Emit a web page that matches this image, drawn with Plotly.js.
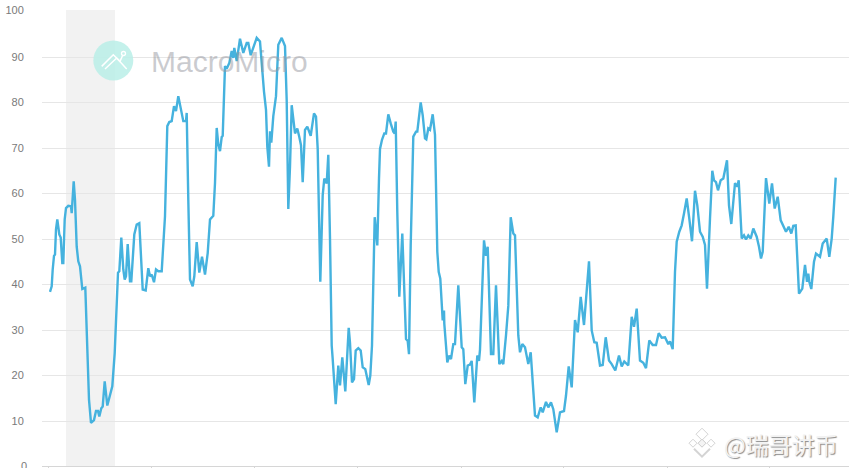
<!DOCTYPE html>
<html>
<head>
<meta charset="utf-8">
<script src="https://cdn.plot.ly/plotly-3.0.1.min.js"></script>
<style>html,body{margin:0;padding:0;background:#fff;overflow:hidden}</style>
</head>
<body>
<div id="chart" style="width:849px;height:468px"></div>
<script>
// x is weeks since the first x tick; y is the index
const weeks = [
2,3.7,4.7,6,7,8,9.3,11.3,12.7,14.3,
15.3,16.7,18,20.3,23,23.7,25.7,27,28.7,30.3,
32,34.3,37.3,39.3,41,43,46,48,50,51.3,
53.3,54.7,56.7,59.3,62,64.3,66.7,68.7,70,71.3,
73.3,75.3,76.7,78,79.7,82,83.3,86.3,88.7,91.3,
94.7,97.7,100.3,102,103.7,106,108,110.3,113.7,117,
119.3,121.3,123.7,126,128,130.3,132.7,135.3,138,138.7,
140.3,142,144.7,146.3,148.7,151.3,154,157,159.7,162,
165.3,167,168.7,170.3,172,173.7,174.7,177,178.7,181.3,
183.7,185.3,186.3,188.7,192,195.3,198.7,200.3,202.7,208.7,
212,214.7,216,218,219.3,221,222,223.3,225.3,228,
230.3,233.7,237,238.7,240.3,242,243,243.7,247,249.3,
251.3,253,254.7,257,259.3,262.7,266,268,269.7,272.3,
274.7,276.3,278.7,280.3,282,283.7,284.7,287.7,290.3,292,
294.3,297.3,300.7,302,304,306,307.7,310.3,312.7,314.7,
317.3,318.7,320.7,322.3,324,326.7,329.3,331,332,334,
336.3,338,340.3,342.7,345.3,346.7,347.7,349.3,351.3,354.3,
356,358,359.7,361,362.7,365.3,368,369.3,372.7,374.7,
377,378.3,380.3,382,384.7,387,389.3,390.7,392.3,394.7,
396,396.3,398,399.3,401.3,403,405.3,407,410.3,413.7,
415.3,417.3,419.7,422,423.7,426.3,429.3,431,432,436,
438,439.7,443,445.3,448,451.3,453.7,455.3,458,460.3,
462.7,465.3,467,470.3,472,474.3,477,480.3,482.7,487,
489.7,492.7,494.7,498,500.3,503,505.3,508.7,512,516,
518,520.7,523.7,527,529.7,532.7,536,541,543.7,546.3,
548.7,552,554.7,557.7,561,563.7,567.3,571,573.7,576.3,
580.3,583.7,586,588.7,592,595.3,598,601.3,604.7,608,
610.7,613.7,617,620.3,622,624.7,627,628.7,631.3,633.7,
636,638.7,641.3,644,647,649.3,652,654.7,657,659,
662,664.3,666,668,670,672.7,675.3,677,679,681,
683.3,687,689.3,690.7,693.7,696,698,700.3,702.7,705.3,
708.7,711,713,714.7,718,721.3,724,726.7,729.7,732.7,
735.3,738,740.7,743.3,745.3,747.7,751,754.3,757,759,
760.3,761.3,763.3,766,768,772,774.7,778.7,781.3,783.7,
785.3,787.7
];
const indexValues = [
38.4,39.6,43.3,46.3,46.6,52.1,54.3,51,50.3,44.7,
44.7,54.3,56.8,57.3,57.2,55.7,62.7,58.6,48.3,45.1,
44,39,39.3,26.2,14.7,9.6,10.2,12.2,12.2,11,
12.8,13.2,18.7,13.4,15.8,17.6,24.9,33.8,42.6,42.9,
50.3,43.3,41.1,41.8,48.9,40.7,40.7,51,53.2,53.5,
38.9,38.7,43.6,41.8,42.2,40.5,43.3,42.9,42.9,55,
74.8,75.7,75.9,79.2,78.1,81.4,78.4,75.9,75.9,77.7,
58.6,41.1,39.6,41.8,49.3,42.6,46.1,42.2,46.9,54.3,
55.1,62.3,74.4,70.8,69.3,72.4,72.7,88,87.4,88.7,
91.3,89.8,92,89.1,94,90.9,93.1,93.1,90.4,94.2,
93.4,85,82.4,78.4,70.3,65.9,73.7,71.2,77,81.4,
92.7,94.2,92.4,80.4,56.6,65.9,79.2,79.4,73.2,74.3,
72.4,70.6,62.5,74,74.7,72.7,77.6,76.9,69.8,40.6,
59.6,63.3,62.2,68.5,50.1,26.6,23.6,13.7,22.2,17.8,
24,16.5,30.5,27.2,18.5,19.2,25.5,26,25.5,21.8,
21.4,20.2,17.9,20,26.6,54.8,48.6,63.3,69.8,71.8,
73.2,73.2,77.4,75.4,73.6,73.2,75.8,55.9,37.3,51.2,
41.3,28,27.6,24.7,48.6,72.5,73.6,73.6,80,77.2,
72.1,71.9,74.3,74,77.4,72.9,47.2,42.8,41.3,32.1,
34.3,31.4,26.6,22.9,24.4,23.6,26.9,26.9,39.8,26.2,
25.8,18.1,22.2,22.4,23.2,14.1,24.4,23.2,25.7,49.7,
46.3,48.3,24.7,24.7,39.8,22.5,23.2,22.5,28.8,35.3,
54.8,51.2,50.8,28.8,25.1,26.9,26.2,22.5,25.1,11.2,
10.8,13,11.9,14.2,13,14.1,12.6,7.5,11.9,12.2,
15.6,22,17.4,32.2,29.5,37.3,31.1,45.1,29.9,27.3,
27.2,22.2,22.3,28.4,23.3,22.5,21.1,24.4,22,23.1,
22.2,32.9,30.7,34.7,23.3,22.8,21.6,27.7,26.7,26.7,
29.3,28.3,28.4,26.9,27.5,25.8,42.8,49.4,51.6,53,
55.6,58.9,54.5,49.5,60.6,57.4,51.6,50.5,48.7,39.1,
54.5,65,62.9,62.5,60.7,62.9,63.3,65.1,67.3,57.4,
53.3,62.3,61.5,62.9,50.1,50.8,49.9,50.8,50.1,52.3,
50.5,48.3,45.7,47.2,63.4,57.8,62.2,56.7,59.3,54.1,
52.7,51.6,52.7,51.2,52.9,53,38,39.1,44.3,40.6,
42.4,40.6,39,45,46.8,46.1,49,50.1,46.1,50.1,
54.9,63.5
];
const yTicks = [10,20,30,40,50,60,70,80,90,100.33];
const yTickText = ["10","20","30","40","50","60","70","80","90","100"];
const xTicks = [0,103,206,309,413,515,619,721];
const shadeStart = 18, shadeEnd = 67;
const brandText = "MacroMicro";
const authorText = "@瑞哥讲币";
const zeroLabel = "0";

const W = 849, H = 468, mL = 42, mT = 10.3, mB = 1.7;
const px = v => (v - mL) / (W - mL);
const py = v => 1 - (v - mT) / (H - mT - mB);
const pth = pts => "M" + pts.map(p => px(p[0]) + "," + py(p[1])).join("L");

function diamond(cx, cy, r, fill, stroke) {
  return {type:"path", xref:"paper", yref:"paper", layer:"above",
    path: pth([[cx,cy-r],[cx+r,cy],[cx,cy+r],[cx-r,cy]]) + "Z",
    fillcolor:fill, line:{color:stroke, width:1}};
}

const logoLine = {color:"#ffffff", width:1.5};
const shapes = [
  {type:"rect", xref:"x", yref:"paper", x0:shadeStart, x1:shadeEnd, y0:0, y1:1,
   fillcolor:"#f2f2f2", line:{width:0}, layer:"below"},
  {type:"circle", xref:"paper", yref:"paper", layer:"above",
   x0:px(93.3), x1:px(133.3), y0:py(80.7), y1:py(40.7),
   fillcolor:"rgba(186,238,231,0.85)", line:{width:0}},
  {type:"path", xref:"paper", yref:"paper", layer:"above",
   path:pth([[101.7,66.7],[113.3,55],[120,61.7],[122.5,56]]), line:logoLine},
  {type:"path", xref:"paper", yref:"paper", layer:"above",
   path:pth([[105,69.3],[116.7,58.3],[126.7,69.3]]), line:logoLine},
  {type:"circle", xref:"paper", yref:"paper", layer:"above",
   x0:px(121.5), x1:px(125.5), y0:py(55.8), y1:py(51.8),
   fillcolor:"rgba(0,0,0,0)", line:{color:"#ffffff", width:1.3}},
  diamond(702, 434.5, 6, "#ffffff", "#d4d4d4"),
  diamond(693, 443.5, 4, "#ffffff", "#d4d4d4"),
  diamond(711, 443.5, 4, "#ffffff", "#d4d4d4"),
  diamond(702, 443.5, 4, "#f4f4f4", "#cccccc"),
  {type:"path", xref:"paper", yref:"paper", layer:"above",
   path:pth([[694,449],[702,457],[710,449]]),
   line:{color:"#d4d4d4", width:2}}
];

Plotly.newPlot("chart", [{
  type:"scatter", mode:"lines", x:weeks, y:indexValues,
  line:{color:"#45b2de", width:2.4}, hoverinfo:"skip"
}], {
  width:W, height:H, showlegend:false,
  paper_bgcolor:"#ffffff", plot_bgcolor:"rgba(0,0,0,0)",
  margin:{l:mL, r:0, t:mT, b:mB, pad:0},
  font:{family:"Liberation Sans, Arial, sans-serif"},
  xaxis:{range:[-6,801], tickmode:"array", tickvals:xTicks, showticklabels:false,
    showgrid:false, zeroline:false, showline:true, linecolor:"#d6d6d6", linewidth:1,
    ticks:"outside", ticklen:3, tickcolor:"#d6d6d6", tickwidth:1},
  yaxis:{range:[0.11,100.33], tickmode:"array", tickvals:yTicks, ticktext:yTickText,
    showgrid:true, gridcolor:"#e6e6e6", gridwidth:1, zeroline:false, showline:false,
    ticks:"outside", ticklen:15, tickcolor:"rgba(0,0,0,0)",
    tickfont:{size:11, color:"#7a7a7a"}},
  shapes:shapes,
  annotations:[
    {text:zeroLabel, xref:"paper", yref:"paper", x:px(27.5), y:py(466.5),
     xanchor:"right", yanchor:"middle", showarrow:false, borderpad:0,
     font:{family:"Liberation Sans, Arial, sans-serif", size:11, color:"#7a7a7a"}},
    {text:brandText, xref:"paper", yref:"paper", x:px(149), y:py(61.5),
     xanchor:"left", yanchor:"middle", showarrow:false,
     font:{family:"Liberation Sans, Arial, sans-serif", size:30, color:"rgba(150,152,160,0.5)"}},
    {text:authorText, xref:"paper", yref:"paper", x:px(722), y:py(444),
     xanchor:"left", yanchor:"middle", showarrow:false,
     font:{family:"Noto Sans CJK SC, sans-serif", size:23, color:"#f2f2f2",
           shadow:"1px 1px 1px #8a8a8a"}}
  ]
}, {displayModeBar:false, staticPlot:true});
</script>
</body>
</html>
